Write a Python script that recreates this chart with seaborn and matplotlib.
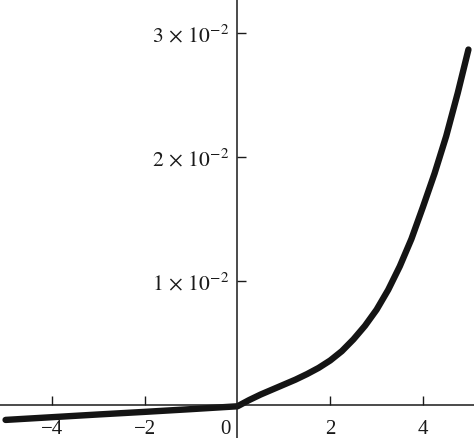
import numpy as np
import pandas as pd
import matplotlib
matplotlib.use("Agg")
import matplotlib.pyplot as plt
import matplotlib.transforms as mtransforms
import seaborn as sns

# Values
x_vals = [-5.0, -4.0, -3.0, -2.0, -1.0, 0.0,
          0.25, 0.5, 0.75, 1.0, 1.25, 1.5, 1.75, 2.0, 2.25, 2.5, 2.75,
          3.0, 3.25, 3.5, 3.75, 4.0, 4.25, 4.5, 4.75, 4.98]
y_vals = [-0.00120, -0.00098, -0.00076, -0.00055, -0.00033, -0.00010,
          0.00040, 0.00085, 0.00125, 0.00165, 0.00205, 0.00250, 0.00300, 0.00360,
          0.00435, 0.00530, 0.00640, 0.00770, 0.00930, 0.01120, 0.01340, 0.01600,
          0.01870, 0.02170, 0.02520, 0.02870]

x_ticks = [-4, -2, 0, 2, 4]
x_tick_labels = ["\u22124", "\u22122", "0", "2", "4"]
y_ticks = [0.01, 0.02, 0.03]
y_tick_labels = [r"$1\,\times\,10^{-2}$", r"$2\,\times\,10^{-2}$", r"$3\,\times\,10^{-2}$"]

df = pd.DataFrame({"x": x_vals, "y": y_vals})

sns.set_style("ticks")
plt.rcParams["font.family"] = ["Liberation Serif", "DejaVu Serif"]
plt.rcParams["mathtext.fontset"] = "stix"

fig = plt.figure(figsize=(4.74, 4.38), dpi=100)
ax = fig.add_axes([0, 0, 1, 1])

sns.lineplot(data=df, x="x", y="y", ax=ax, color="#141414", linewidth=4.6,
             solid_capstyle="round", solid_joinstyle="round")

ax.set_xlim(-5.12, 5.10)
ax.set_ylim(-0.00266, 0.0327)

# axes crossing at the origin
ax.spines["left"].set_position(("data", 0))
ax.spines["bottom"].set_position(("data", 0))
ax.spines["top"].set_visible(False)
ax.spines["right"].set_visible(False)
for s in ["left", "bottom"]:
    ax.spines[s].set_linewidth(1.1)
    ax.spines[s].set_color("#1a1a1a")

ax.set_xticks(x_ticks)
ax.set_xticklabels(x_tick_labels)
ax.set_yticks(y_ticks)
ax.set_yticklabels(y_tick_labels)
ax.tick_params(axis="x", direction="in", length=6.5, width=1.0, pad=11,
               labelsize=15, colors="#1a1a1a")
ax.tick_params(axis="y", direction="in", length=6.5, width=1.0, pad=6,
               labelsize=15.5, colors="#1a1a1a")

# no tick mark at origin, shift the "0" label left like the original
ax.xaxis.get_major_ticks()[2].tick1line.set_visible(False)
lbl0 = ax.get_xticklabels()[2]
lbl0.set_transform(lbl0.get_transform() +
                   mtransforms.ScaledTranslation(-9 / 72, 0, fig.dpi_scale_trans))

ax.set_xlabel("")
ax.set_ylabel("")
ax.grid(False)

fig.savefig("out.png", dpi=100)
